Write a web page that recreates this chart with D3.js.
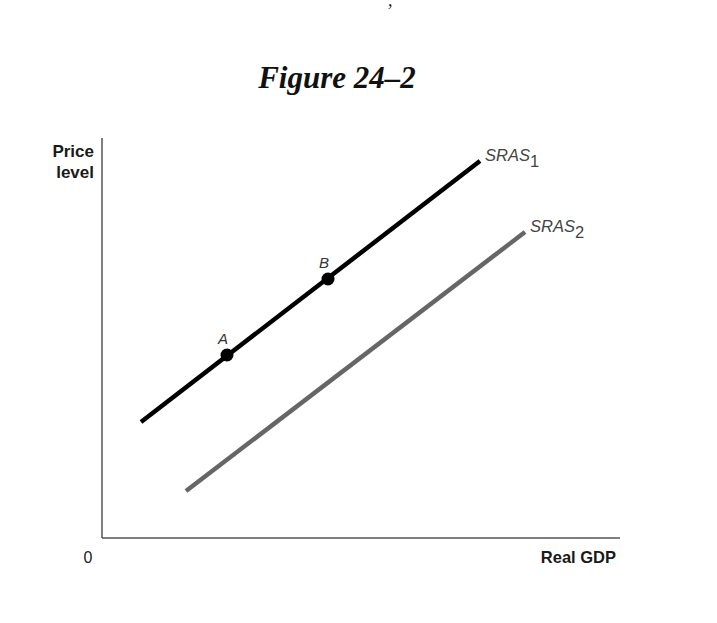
<!DOCTYPE html>
<html><head><meta charset="utf-8">
<script src="https://cdn.jsdelivr.net/npm/d3@7"></script>
<style>body{margin:0;background:#fff;} svg{display:block;}</style>
</head><body>
<script>
// Data (in abstract units: Real GDP 0-100, Price level 0-100)
const sras1 = [{x: 7.53, y: 29}, {x: 72.97, y: 94.25}];
const sras2 = [{x: 16.22, y: 11.75}, {x: 81.66, y: 76.5}];
const points = [{name: "A", x: 24.13, y: 45.75}, {name: "B", x: 43.63, y: 64.75}];
const curveLabels = [{base: "SRAS", sub: "1"}, {base: "SRAS", sub: "2"}];
const titleText = "Figure 24–2";

const W = 717, H = 623;
const svg = d3.select("body").append("svg").attr("width", W).attr("height", H);

const x = d3.scaleLinear().domain([0, 100]).range([102, 620]);
const y = d3.scaleLinear().domain([0, 100]).range([538, 138]);

// stray top fragment
svg.append("text").attr("x", 388).attr("y", 6).attr("font-family", "Liberation Serif")
  .attr("font-size", 18).attr("font-style", "italic").attr("fill", "#222").text(",");

// Title
svg.append("text").attr("x", 337).attr("y", 88).attr("text-anchor", "middle")
  .attr("font-family", "Liberation Serif").attr("font-weight", "bold").attr("font-style", "italic")
  .attr("font-size", 31).attr("fill", "#111").text(titleText);

// Axes
svg.append("line").attr("x1", x(0)).attr("x2", x(0)).attr("y1", y(100)).attr("y2", y(0))
  .attr("stroke", "#555").attr("stroke-width", 1.5);
svg.append("line").attr("x1", x(0)).attr("x2", x(100)).attr("y1", y(0)).attr("y2", y(0))
  .attr("stroke", "#555").attr("stroke-width", 1.5);

const sans = "Liberation Sans";
svg.append("text").attr("x", 94).attr("y", 157).attr("text-anchor", "end")
  .attr("font-family", sans).attr("font-weight", "bold").attr("font-size", 17).attr("fill", "#1a1a1a").text("Price");
svg.append("text").attr("x", 94).attr("y", 178).attr("text-anchor", "end")
  .attr("font-family", sans).attr("font-weight", "bold").attr("font-size", 17).attr("fill", "#1a1a1a").text("level");
svg.append("text").attr("x", 88).attr("y", 563).attr("text-anchor", "middle")
  .attr("font-family", sans).attr("font-size", 16).attr("fill", "#222").text("0");
svg.append("text").attr("x", 616).attr("y", 563).attr("text-anchor", "end")
  .attr("font-family", sans).attr("font-weight", "bold").attr("font-size", 16.5).attr("fill", "#1a1a1a").text("Real GDP");

const line = d3.line().x(d => x(d.x)).y(d => y(d.y));
svg.append("path").datum(sras2).attr("d", line).attr("stroke", "#666").attr("stroke-width", 4.5)
  .attr("fill", "none");
svg.append("path").datum(sras1).attr("d", line).attr("stroke", "#000").attr("stroke-width", 4.5)
  .attr("fill", "none");

// Curve labels
const lblPos = [sras1[1], sras2[1]];
curveLabels.forEach((l, i) => {
  const t = svg.append("text").attr("x", x(lblPos[i].x) + 5).attr("y", y(lblPos[i].y) + 0)
    .attr("font-family", sans).attr("font-style", "italic").attr("font-size", 16.5).attr("fill", "#444");
  t.append("tspan").text(l.base);
  t.append("tspan").attr("dy", 6).attr("font-style", "normal").attr("font-size", 16.5).text(l.sub);
});

// Points
svg.selectAll("circle.pt").data(points).join("circle").attr("class", "pt")
  .attr("cx", d => x(d.x)).attr("cy", d => y(d.y)).attr("r", 6.5).attr("fill", "#000");
svg.selectAll("text.pt").data(points).join("text").attr("class", "pt")
  .attr("x", d => x(d.x) - 4).attr("y", d => y(d.y) - 11).attr("text-anchor", "middle")
  .attr("font-family", sans).attr("font-style", "italic").attr("font-size", 15).attr("fill", "#333")
  .text(d => d.name);
</script>
</body></html>
